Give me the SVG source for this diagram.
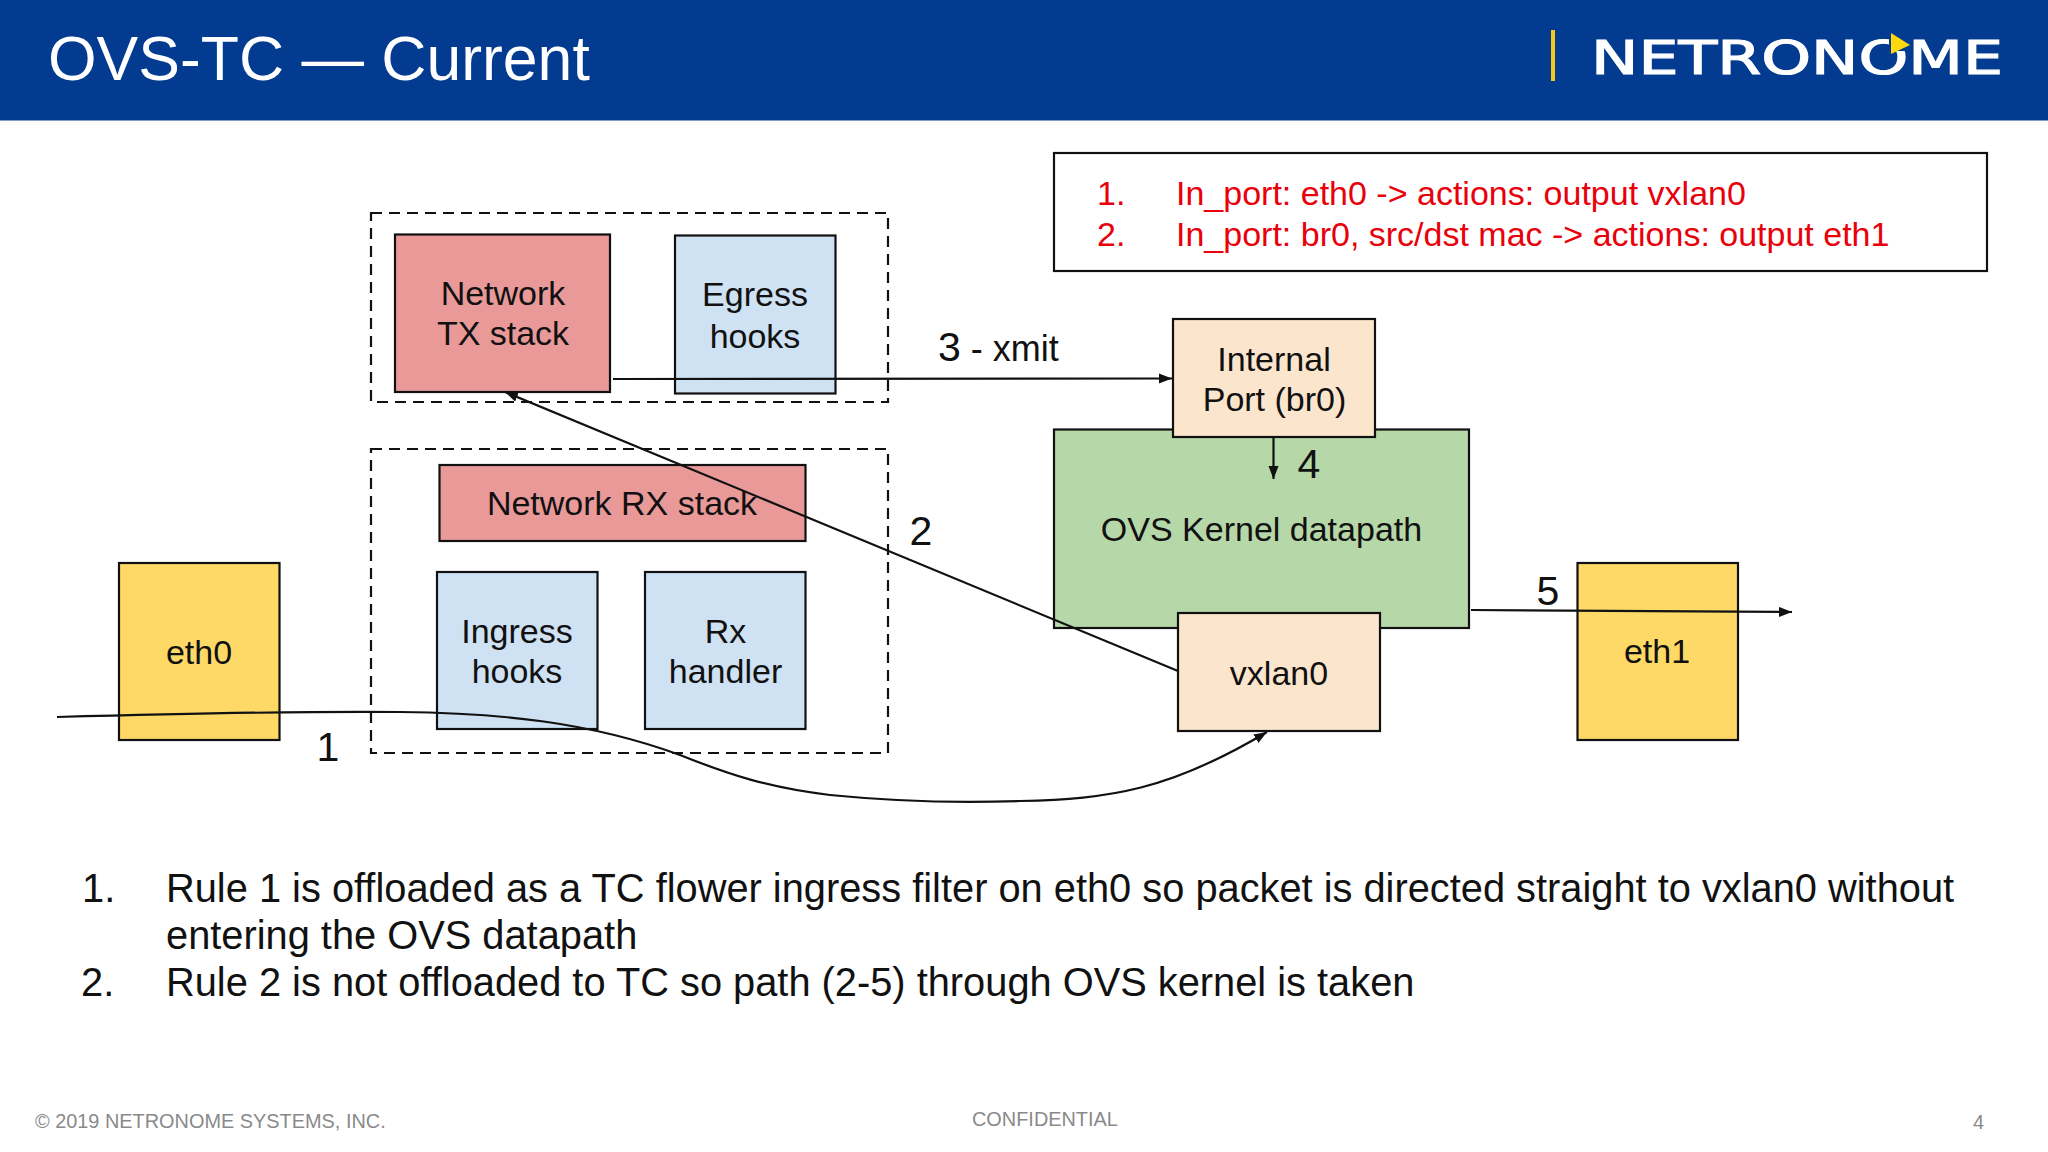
<svg xmlns="http://www.w3.org/2000/svg" width="2048" height="1152" viewBox="0 0 2048 1152">
<style>
text{font-family:"Liberation Sans",Arial,sans-serif;fill:#111}
.b{stroke:#111;stroke-width:2.2}
.l{font-size:34px;text-anchor:middle}
.n{font-size:41px;text-anchor:middle}
.t{font-size:39.800px}
.r{font-size:34px;fill:#e8000b}
.f{font-size:19.900px;fill:#8a8a8a}
.c{fill:none;stroke:#111;stroke-width:2.2}
.d{fill:none;stroke:#111;stroke-width:2.2;stroke-dasharray:11 7}
</style>
<defs><marker id="a" markerUnits="userSpaceOnUse" markerWidth="14" markerHeight="12" refX="13" refY="5" orient="auto"><path d="M0 0L13 5L0 10Z" fill="#111"/></marker></defs>
<rect width="2048" height="1152" fill="#fff"/>
<g id="header">
<rect width="2048" height="120.500" fill="#023b8f"/>
<text x="48" y="80" font-size="62.500" style="fill:#fff">OVS-TC — Current</text>
<rect x="1551" y="30" width="4" height="51" fill="#f2c81e"/>
<text x="1591" y="74" font-size="46.500" textLength="412" lengthAdjust="spacingAndGlyphs" style="font-family:'DejaVu Sans',sans-serif;fill:#fff;stroke:#fff;stroke-width:1.200">NETRONOME</text>
<rect x="1889" y="36" width="24" height="15" fill="#023b8f"/>
<path d="M1891 33L1910 45L1891 54Z" fill="#ffd90f"/>
</g>
<g id="legend">
<rect x="1054" y="153" width="933" height="118" fill="#fff" class="b"/>
<text class="r" x="1097" y="205">1.</text><text class="r" x="1176" y="205">In_port: eth0 -&gt; actions: output vxlan0</text>
<text class="r" x="1097" y="246">2.</text><text class="r" x="1176" y="246">In_port: br0, src/dst mac -&gt; actions: output eth1</text>
</g>
<g id="tx-group"><rect x="371" y="213" width="517" height="189" class="d"/></g>
<g id="rx-group"><rect x="371" y="449" width="517" height="304" class="d"/></g>
<g id="network-tx"><rect x="395" y="234.500" width="215" height="157.500" fill="#ea9999" class="b"/><text class="l" x="503" y="305">Network</text><text class="l" x="503" y="345">TX stack</text></g>
<g id="egress"><rect x="675" y="235.500" width="160.500" height="158" fill="#cfe2f3" class="b"/><text class="l" x="755" y="306">Egress</text><text class="l" x="755" y="347.500">hooks</text></g>
<g id="network-rx"><rect x="439.500" y="465" width="366" height="76" fill="#ea9999" class="b"/><text class="l" x="622" y="515">Network RX stack</text></g>
<g id="ingress"><rect x="437" y="572" width="160.500" height="157" fill="#cfe2f3" class="b"/><text class="l" x="517" y="642.500">Ingress</text><text class="l" x="517" y="683">hooks</text></g>
<g id="rx-handler"><rect x="645" y="572" width="160.500" height="157" fill="#cfe2f3" class="b"/><text class="l" x="725.500" y="642.500">Rx</text><text class="l" x="725.500" y="683">handler</text></g>
<g id="eth0"><rect x="119" y="563" width="160.500" height="177" fill="#ffd966" class="b"/><text class="l" x="199" y="664">eth0</text></g>
<g id="ovs"><rect x="1054" y="429.500" width="415" height="198.500" fill="#b6d7a8" class="b"/><text class="l" x="1261.500" y="541">OVS Kernel datapath</text></g>
<g id="internal-port"><rect x="1173" y="319" width="202" height="118" fill="#fce5cd" class="b"/><text class="l" x="1274" y="370.500">Internal</text><text class="l" x="1274.500" y="411">Port (br0)</text></g>
<g id="vxlan0"><rect x="1178" y="613" width="202" height="118" fill="#fce5cd" class="b"/><text class="l" x="1279" y="685">vxlan0</text></g>
<g id="eth1"><rect x="1577.500" y="563" width="160.500" height="177" fill="#ffd966" class="b"/><text class="l" x="1657" y="663">eth1</text></g>
<g id="connectors">
<path class="c" d="M57 717C170 714 300 711 400 712C500 713 590 722 680 755C730 775 770 788 830 795C890 801 960 803 1020 801C1110 799 1170 790 1267 732" marker-end="url(#a)"/>
<path class="c" d="M1178 671L505 392" marker-end="url(#a)"/>
<path class="c" d="M613 379L1172 378.500" marker-end="url(#a)"/>
<path class="c" d="M1273.500 437V479" marker-end="url(#a)"/>
<path class="c" d="M1471 610L1792 612" marker-end="url(#a)"/>
</g>
<g id="labels">
<text x="938" y="361" font-size="41">3<tspan font-size="36"> - xmit</tspan></text>
<text class="n" x="328" y="761">1</text>
<text class="n" x="921" y="545">2</text>
<text class="n" x="1309" y="478">4</text>
<text class="n" x="1548" y="605">5</text>
</g>
<g id="notes">
<text class="t" x="82" y="902">1.</text><text class="t" x="166" y="902">Rule 1 is offloaded as a TC flower ingress filter on eth0 so packet is directed straight to vxlan0 without</text>
<text class="t" x="166" y="949">entering the OVS datapath</text>
<text class="t" x="81" y="996">2.</text><text class="t" x="166" y="996">Rule 2 is not offloaded to TC so path (2-5) through OVS kernel is taken</text>
</g>
<g id="footer">
<text class="f" x="35" y="1128">© 2019 NETRONOME SYSTEMS, INC.</text>
<text class="f" x="972" y="1126">CONFIDENTIAL</text>
<text class="f" x="1973" y="1129">4</text>
</g>
</svg>
